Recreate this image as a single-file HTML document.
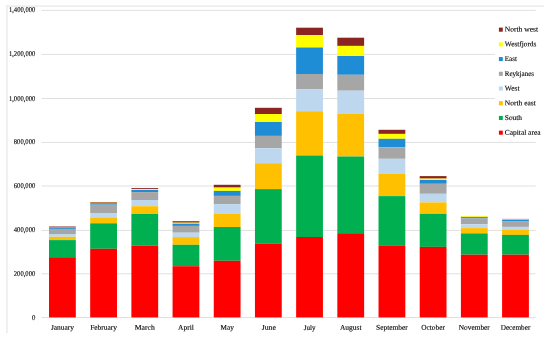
<!DOCTYPE html>
<html lang="en">
<head>
<meta charset="utf-8">
<title>Overnight stays by region and month</title>
<style>
html,body{margin:0;padding:0;background:#fff;}
body{width:550px;height:338px;overflow:hidden;}
svg{display:block;}
text{font-family:"Liberation Serif","DejaVu Serif",serif;font-size:7.3px;fill:#000;stroke:#000;stroke-width:0.12px;text-rendering:geometricPrecision;}
</style>
</head>
<body>
<svg width="550" height="338" viewBox="0 0 550 338">
<rect x="0" y="0" width="550" height="338" fill="#ffffff"/>
<path d="M6.95 333 V5.3" fill="none" stroke="#e7e7e7" stroke-width="1.3"/>
<path d="M6.3 6.05 H544" fill="none" stroke="#e8e8e8" stroke-width="1.2"/>
<g stroke="#e0e0e0" stroke-width="1">
<line x1="41.5" y1="10.36" x2="535.7" y2="10.36"/>
<line x1="41.5" y1="54.36" x2="535.7" y2="54.36"/>
<line x1="41.5" y1="98.47" x2="535.7" y2="98.47"/>
<line x1="41.5" y1="142.4" x2="535.7" y2="142.4"/>
<line x1="41.5" y1="186" x2="535.7" y2="186"/>
<line x1="41.5" y1="230.4" x2="535.7" y2="230.4"/>
<line x1="41.5" y1="273.77" x2="535.7" y2="273.77"/>
<line x1="41.5" y1="317.47" x2="535.7" y2="317.47"/>
</g>
<rect x="495" y="20" width="50" height="119" fill="#ffffff"/>
<g shape-rendering="auto">
<rect x="49.00" y="226.50" width="26.8" height="0.70" fill="#8B2522"/>
<rect x="49.00" y="227.20" width="26.8" height="0.20" fill="#FFFF00"/>
<rect x="49.00" y="227.40" width="26.8" height="1.50" fill="#1F8DD6"/>
<rect x="49.00" y="228.90" width="26.8" height="5.10" fill="#A6A6A6"/>
<rect x="49.00" y="234.00" width="26.8" height="2.80" fill="#BDD7EE"/>
<rect x="49.00" y="236.80" width="26.8" height="3.30" fill="#FFC000"/>
<rect x="49.00" y="240.10" width="26.8" height="17.10" fill="#00B050"/>
<rect x="49.00" y="257.20" width="26.8" height="60.20" fill="#FF0000"/>
<rect x="90.19" y="202.10" width="26.8" height="0.70" fill="#8B2522"/>
<rect x="90.19" y="202.80" width="26.8" height="0.40" fill="#FFFF00"/>
<rect x="90.19" y="203.20" width="26.8" height="1.50" fill="#1F8DD6"/>
<rect x="90.19" y="204.70" width="26.8" height="8.30" fill="#A6A6A6"/>
<rect x="90.19" y="213.00" width="26.8" height="4.40" fill="#BDD7EE"/>
<rect x="90.19" y="217.40" width="26.8" height="5.90" fill="#FFC000"/>
<rect x="90.19" y="223.30" width="26.8" height="25.50" fill="#00B050"/>
<rect x="90.19" y="248.80" width="26.8" height="68.60" fill="#FF0000"/>
<rect x="131.38" y="188.10" width="26.8" height="0.90" fill="#8B2522"/>
<rect x="131.38" y="189.00" width="26.8" height="1.00" fill="#FFFF00"/>
<rect x="131.38" y="190.00" width="26.8" height="2.10" fill="#1F8DD6"/>
<rect x="131.38" y="192.10" width="26.8" height="7.90" fill="#A6A6A6"/>
<rect x="131.38" y="200.00" width="26.8" height="6.20" fill="#BDD7EE"/>
<rect x="131.38" y="206.20" width="26.8" height="7.80" fill="#FFC000"/>
<rect x="131.38" y="214.00" width="26.8" height="31.50" fill="#00B050"/>
<rect x="131.38" y="245.50" width="26.8" height="71.90" fill="#FF0000"/>
<rect x="172.57" y="221.20" width="26.8" height="1.50" fill="#8B2522"/>
<rect x="172.57" y="222.70" width="26.8" height="1.00" fill="#FFFF00"/>
<rect x="172.57" y="223.70" width="26.8" height="2.20" fill="#1F8DD6"/>
<rect x="172.57" y="225.90" width="26.8" height="6.80" fill="#A6A6A6"/>
<rect x="172.57" y="232.70" width="26.8" height="4.40" fill="#BDD7EE"/>
<rect x="172.57" y="237.10" width="26.8" height="7.70" fill="#FFC000"/>
<rect x="172.57" y="244.80" width="26.8" height="21.40" fill="#00B050"/>
<rect x="172.57" y="266.20" width="26.8" height="51.20" fill="#FF0000"/>
<rect x="213.76" y="184.80" width="26.8" height="2.80" fill="#8B2522"/>
<rect x="213.76" y="187.60" width="26.8" height="3.30" fill="#FFFF00"/>
<rect x="213.76" y="190.90" width="26.8" height="5.00" fill="#1F8DD6"/>
<rect x="213.76" y="195.90" width="26.8" height="8.20" fill="#A6A6A6"/>
<rect x="213.76" y="204.10" width="26.8" height="9.40" fill="#BDD7EE"/>
<rect x="213.76" y="213.50" width="26.8" height="13.50" fill="#FFC000"/>
<rect x="213.76" y="227.00" width="26.8" height="33.80" fill="#00B050"/>
<rect x="213.76" y="260.80" width="26.8" height="56.60" fill="#FF0000"/>
<rect x="254.95" y="107.80" width="26.8" height="6.20" fill="#8B2522"/>
<rect x="254.95" y="114.00" width="26.8" height="8.00" fill="#FFFF00"/>
<rect x="254.95" y="122.00" width="26.8" height="13.90" fill="#1F8DD6"/>
<rect x="254.95" y="135.90" width="26.8" height="12.30" fill="#A6A6A6"/>
<rect x="254.95" y="148.20" width="26.8" height="15.00" fill="#BDD7EE"/>
<rect x="254.95" y="163.20" width="26.8" height="25.90" fill="#FFC000"/>
<rect x="254.95" y="189.10" width="26.8" height="54.30" fill="#00B050"/>
<rect x="254.95" y="243.40" width="26.8" height="74.00" fill="#FF0000"/>
<rect x="296.14" y="27.70" width="26.8" height="7.40" fill="#8B2522"/>
<rect x="296.14" y="35.10" width="26.8" height="12.40" fill="#FFFF00"/>
<rect x="296.14" y="47.50" width="26.8" height="26.50" fill="#1F8DD6"/>
<rect x="296.14" y="74.00" width="26.8" height="15.10" fill="#A6A6A6"/>
<rect x="296.14" y="89.10" width="26.8" height="22.10" fill="#BDD7EE"/>
<rect x="296.14" y="111.20" width="26.8" height="44.30" fill="#FFC000"/>
<rect x="296.14" y="155.50" width="26.8" height="81.50" fill="#00B050"/>
<rect x="296.14" y="237.00" width="26.8" height="80.40" fill="#FF0000"/>
<rect x="337.33" y="37.70" width="26.8" height="8.20" fill="#8B2522"/>
<rect x="337.33" y="45.90" width="26.8" height="10.10" fill="#FFFF00"/>
<rect x="337.33" y="56.00" width="26.8" height="18.80" fill="#1F8DD6"/>
<rect x="337.33" y="74.80" width="26.8" height="15.90" fill="#A6A6A6"/>
<rect x="337.33" y="90.70" width="26.8" height="22.90" fill="#BDD7EE"/>
<rect x="337.33" y="113.60" width="26.8" height="42.90" fill="#FFC000"/>
<rect x="337.33" y="156.50" width="26.8" height="76.70" fill="#00B050"/>
<rect x="337.33" y="233.20" width="26.8" height="84.20" fill="#FF0000"/>
<rect x="378.52" y="129.80" width="26.8" height="4.10" fill="#8B2522"/>
<rect x="378.52" y="133.90" width="26.8" height="4.90" fill="#FFFF00"/>
<rect x="378.52" y="138.80" width="26.8" height="8.50" fill="#1F8DD6"/>
<rect x="378.52" y="147.30" width="26.8" height="11.50" fill="#A6A6A6"/>
<rect x="378.52" y="158.80" width="26.8" height="14.70" fill="#BDD7EE"/>
<rect x="378.52" y="173.50" width="26.8" height="22.60" fill="#FFC000"/>
<rect x="378.52" y="196.10" width="26.8" height="49.80" fill="#00B050"/>
<rect x="378.52" y="245.90" width="26.8" height="71.50" fill="#FF0000"/>
<rect x="419.71" y="176.10" width="26.8" height="2.50" fill="#8B2522"/>
<rect x="419.71" y="178.60" width="26.8" height="1.40" fill="#FFFF00"/>
<rect x="419.71" y="180.00" width="26.8" height="3.80" fill="#1F8DD6"/>
<rect x="419.71" y="183.80" width="26.8" height="10.00" fill="#A6A6A6"/>
<rect x="419.71" y="193.80" width="26.8" height="8.60" fill="#BDD7EE"/>
<rect x="419.71" y="202.40" width="26.8" height="11.40" fill="#FFC000"/>
<rect x="419.71" y="213.80" width="26.8" height="33.10" fill="#00B050"/>
<rect x="419.71" y="246.90" width="26.8" height="70.50" fill="#FF0000"/>
<rect x="460.90" y="216.10" width="26.8" height="0.20" fill="#8B2522"/>
<rect x="460.90" y="216.30" width="26.8" height="0.80" fill="#FFFF00"/>
<rect x="460.90" y="217.10" width="26.8" height="1.40" fill="#1F8DD6"/>
<rect x="460.90" y="218.50" width="26.8" height="5.80" fill="#A6A6A6"/>
<rect x="460.90" y="224.30" width="26.8" height="3.80" fill="#BDD7EE"/>
<rect x="460.90" y="228.10" width="26.8" height="5.30" fill="#FFC000"/>
<rect x="460.90" y="233.40" width="26.8" height="21.30" fill="#00B050"/>
<rect x="460.90" y="254.70" width="26.8" height="62.70" fill="#FF0000"/>
<rect x="502.09" y="218.90" width="26.8" height="0.50" fill="#8B2522"/>
<rect x="502.09" y="219.40" width="26.8" height="0.50" fill="#FFFF00"/>
<rect x="502.09" y="219.90" width="26.8" height="1.20" fill="#1F8DD6"/>
<rect x="502.09" y="221.10" width="26.8" height="5.80" fill="#A6A6A6"/>
<rect x="502.09" y="226.90" width="26.8" height="3.10" fill="#BDD7EE"/>
<rect x="502.09" y="230.00" width="26.8" height="4.90" fill="#FFC000"/>
<rect x="502.09" y="234.90" width="26.8" height="19.80" fill="#00B050"/>
<rect x="502.09" y="254.70" width="26.8" height="62.70" fill="#FF0000"/>
</g>
<g text-anchor="end" transform="matrix(1 0.0005 0 1 0 0)">
<text x="35.3" y="12.392" textLength="26.4" lengthAdjust="spacingAndGlyphs">1,400,000</text>
<text x="35.3" y="56.392" textLength="26.4" lengthAdjust="spacingAndGlyphs">1,200,000</text>
<text x="35.3" y="100.502" textLength="26.4" lengthAdjust="spacingAndGlyphs">1,000,000</text>
<text x="35.3" y="144.432" textLength="21.5" lengthAdjust="spacingAndGlyphs">800,000</text>
<text x="35.3" y="188.032" textLength="21.5" lengthAdjust="spacingAndGlyphs">600,000</text>
<text x="35.3" y="232.432" textLength="21.5" lengthAdjust="spacingAndGlyphs">400,000</text>
<text x="35.3" y="275.802" textLength="21.5" lengthAdjust="spacingAndGlyphs">200,000</text>
<text x="35.3" y="319.502" textLength="3.4" lengthAdjust="spacingAndGlyphs">0</text>
</g>
<g text-anchor="middle" transform="matrix(1 0.0005 0 1 0 0)">
<text x="62.40" y="329.669" textLength="23" lengthAdjust="spacingAndGlyphs">January</text>
<text x="103.59" y="329.648" textLength="26.8" lengthAdjust="spacingAndGlyphs">February</text>
<text x="144.78" y="329.628" textLength="20" lengthAdjust="spacingAndGlyphs">March</text>
<text x="185.97" y="329.607" textLength="15.8" lengthAdjust="spacingAndGlyphs">April</text>
<text x="227.16" y="329.586" textLength="13.2" lengthAdjust="spacingAndGlyphs">May</text>
<text x="268.75" y="329.566" textLength="14.2" lengthAdjust="spacingAndGlyphs">June</text>
<text x="309.54" y="329.545" textLength="11.8" lengthAdjust="spacingAndGlyphs">July</text>
<text x="350.73" y="329.525" textLength="21.6" lengthAdjust="spacingAndGlyphs">August</text>
<text x="391.92" y="329.504" textLength="31.6" lengthAdjust="spacingAndGlyphs">September</text>
<text x="433.11" y="329.483" textLength="23.8" lengthAdjust="spacingAndGlyphs">October</text>
<text x="474.30" y="329.463" textLength="31" lengthAdjust="spacingAndGlyphs">November</text>
<text x="515.49" y="329.442" textLength="29.6" lengthAdjust="spacingAndGlyphs">December</text>
</g>
<g>
<rect x="498.9" y="27.60" width="3.9" height="4.1" fill="#8B2522"/>
<text x="504.8" y="31.348" transform="matrix(1 0.0005 0 1 0 0)" textLength="33.2" lengthAdjust="spacingAndGlyphs">North west</text>
<rect x="498.9" y="42.32" width="3.9" height="4.1" fill="#FFFF00"/>
<text x="504.8" y="46.068" transform="matrix(1 0.0005 0 1 0 0)" textLength="31.6" lengthAdjust="spacingAndGlyphs">Westfjords</text>
<rect x="498.9" y="57.04" width="3.9" height="4.1" fill="#1F8DD6"/>
<text x="504.8" y="60.788" transform="matrix(1 0.0005 0 1 0 0)" textLength="12.2" lengthAdjust="spacingAndGlyphs">East</text>
<rect x="498.9" y="71.76" width="3.9" height="4.1" fill="#A6A6A6"/>
<text x="504.8" y="75.508" transform="matrix(1 0.0005 0 1 0 0)" textLength="29.2" lengthAdjust="spacingAndGlyphs">Reykjanes</text>
<rect x="498.9" y="86.48" width="3.9" height="4.1" fill="#BDD7EE"/>
<text x="504.8" y="90.228" transform="matrix(1 0.0005 0 1 0 0)" textLength="14.7" lengthAdjust="spacingAndGlyphs">West</text>
<rect x="498.9" y="101.20" width="3.9" height="4.1" fill="#FFC000"/>
<text x="504.8" y="104.948" transform="matrix(1 0.0005 0 1 0 0)" textLength="31" lengthAdjust="spacingAndGlyphs">North east</text>
<rect x="498.9" y="115.92" width="3.9" height="4.1" fill="#00B050"/>
<text x="504.8" y="119.668" transform="matrix(1 0.0005 0 1 0 0)" textLength="17.2" lengthAdjust="spacingAndGlyphs">South</text>
<rect x="498.9" y="130.64" width="3.9" height="4.1" fill="#FF0000"/>
<text x="504.8" y="134.388" transform="matrix(1 0.0005 0 1 0 0)" textLength="35.7" lengthAdjust="spacingAndGlyphs">Capital area</text>
</g>
</svg>
</body>
</html>
